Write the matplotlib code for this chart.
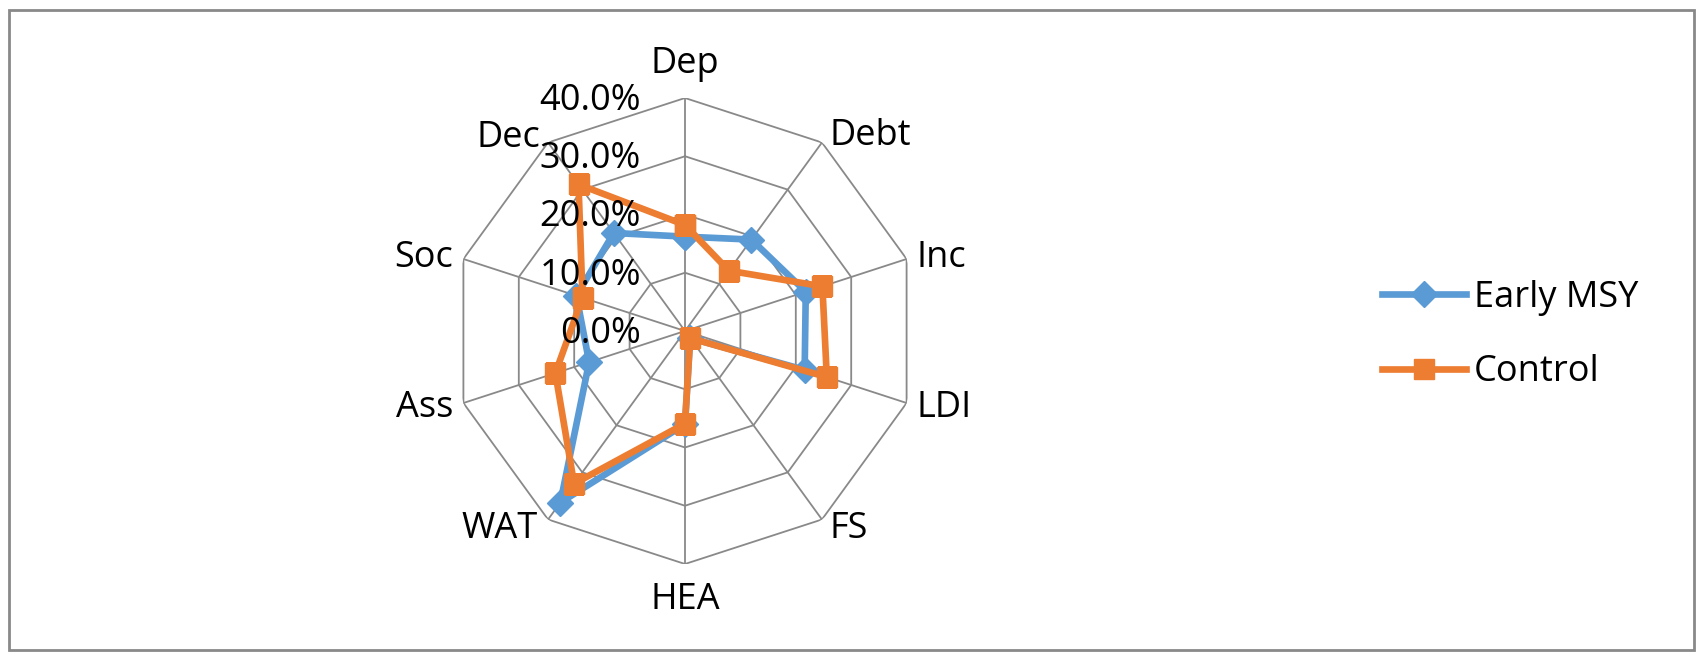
import numpy as np
import matplotlib
matplotlib.use("Agg")
import matplotlib.pyplot as plt
from matplotlib.patches import Rectangle

# ---------------- data ----------------
categories = ["Dep", "Debt", "Inc", "LDI", "FS", "HEA", "WAT", "Ass", "Soc", "Dec"]
early_msy = [16.2, 19.4, 21.8, 21.6, 1.5, 16.0, 36.4, 17.3, 19.6, 20.8]
control = [18.2, 12.8, 24.8, 25.6, 1.5, 15.9, 32.4, 23.4, 18.5, 31.1]
radial_ticks = [0, 10, 20, 30, 40]
radial_labels = ["0.0%", "10.0%", "20.0%", "30.0%", "40.0%"]
series_names = ["Early MSY", "Control"]

# ---------------- style ----------------
plt.rcParams['font.family'] = ['Open Sans', 'DejaVu Sans']
FS_TXT = 26
BLUE = "#5B9BD5"
ORANGE = "#ED7D31"
GRID = "#898989"
PX = 0.72  # points per pixel at dpi 100

W, H = 1705, 654
fig = plt.figure(figsize=(W / 100, H / 100), dpi=100)
cx, cy, R = 685, 331, 233
ax = fig.add_axes([(cx - R) / W, (H - cy - R) / H, 2 * R / W, 2 * R / H], projection='polar')
ax.set_theta_offset(np.pi / 2)
ax.set_theta_direction(-1)
ax.set_ylim(0, radial_ticks[-1])
ax.set_rorigin(0)
ax.grid(False)
ax.spines['polar'].set_visible(False)
ax.set_xticks([])
ax.set_yticks([])
ax.patch.set_alpha(0)

n = len(categories)
theta = np.arange(n) * 2 * np.pi / n
theta_c = np.append(theta, theta[0])

# polygon grid
for lv in radial_ticks[1:]:
    ax.plot(theta_c, [lv] * (n + 1), color=GRID, lw=1.3, zorder=1)
for t in theta:
    ax.plot([t, t], [0, radial_ticks[-1]], color=GRID, lw=1.3, zorder=1)

# series
l1, = ax.plot(theta_c, early_msy + early_msy[:1], color=BLUE, lw=4.8, marker='D',
              ms=13.5, mfc=BLUE, mec=BLUE, zorder=3, solid_joinstyle='round')
l2, = ax.plot(theta_c, control + control[:1], color=ORANGE, lw=4.8, marker='s',
              ms=15, mfc=ORANGE, mec=ORANGE, zorder=4, solid_joinstyle='round')

# radial tick labels (left of the Dep spoke)
for lv, lab in zip(radial_ticks, radial_labels):
    ax.annotate(lab, xy=(0, lv), xytext=(-44 * PX, -12 * PX), textcoords='offset points',
                ha='right', va='baseline', fontsize=FS_TXT, zorder=5, annotation_clip=False)

# category labels: (dx px, dy px down, ha)
placement = [(0, -25, 'center'), (7.5, 2.5, 'left'), (10, 7.8, 'left'), (10, 13.8, 'left'),
             (7.5, 18.5, 'left'), (0, 45, 'center'), (-10, 18.5, 'right'), (-10.4, 13.8, 'right'),
             (-10.4, 7.8, 'right'), (-8, 4.5, 'right')]
for t, lab, (dx, dy, ha) in zip(theta, categories, placement):
    ax.annotate(lab, xy=(t, radial_ticks[-1]), xytext=(dx * PX, -dy * PX), textcoords='offset points',
                ha=ha, va='baseline', fontsize=FS_TXT, annotation_clip=False)

# legend
fig.legend([l1, l2], series_names, loc='center left', bbox_to_anchor=(1382 / W, (H - 335) / H),
           frameon=False, fontsize=FS_TXT, handlelength=2.33, handletextpad=0.22,
           labelspacing=1.07, borderpad=0, borderaxespad=0)

# chart border
fig.add_artist(Rectangle((9 / W, 4 / H), (1694 - 9) / W, (650 - 10) / H, transform=fig.transFigure,
                         fill=False, edgecolor=GRID, lw=2))

fig.savefig("out.png", dpi=100)
